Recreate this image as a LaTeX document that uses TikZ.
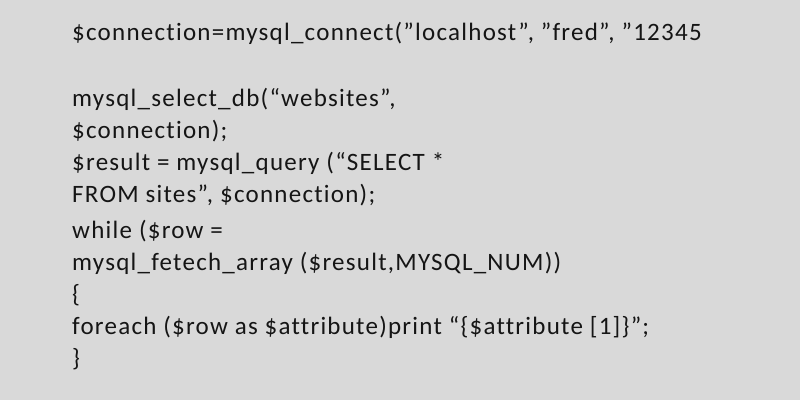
\documentclass[tikz,border=0pt]{standalone}
\usepackage{fontspec}
\defaultfontfeatures{}
\setmainfont[Ligatures={NoCommon},LetterSpace=5]{Carlito}
\definecolor{bggray}{HTML}{D9D9D9}
\definecolor{codeink}{HTML}{151515}
\newcommand{\sq}{\symbol{"0022}}
\begin{document}
\begin{tikzpicture}[x=1pt,y=-1pt,font=\fontsize{25}{25}\selectfont,
  codeline/.style={anchor=base west,inner sep=0pt,text=codeink}]
\fill [bggray] (0,0) rectangle (800,400);
\useasboundingbox (0,0) rectangle (800,400);
\node [codeline] (l1) at (72,40) {\$connection=mysql\_connect(\sq localhost\sq, \sq fred\sq, \sq 12345};
\node [codeline] (l2) at (72,106) {mysql\_select\_db(“websites”,};
\node [codeline] (l3) at (72,138) {\$connection);};
\node [codeline] (l4) at (72,170) {\$result = mysql\_query (“SELECT *};
\node [codeline] (l5) at (72,202) {FROM sites”, \$connection);};
\node [codeline] (l6) at (72,238) {while (\$row =};
\node [codeline] (l7) at (72,270) {mysql\_fetech\_array (\$result,MYSQL\_NUM))};
\node [codeline] (l8) at (72,302) {\{};
\node [codeline] (l9) at (72,334) {foreach (\$row as \$attribute)print “\{\$attribute [1]\}”;};
\node [codeline] (l10) at (72,366) {\}};
\end{tikzpicture}
\end{document}
